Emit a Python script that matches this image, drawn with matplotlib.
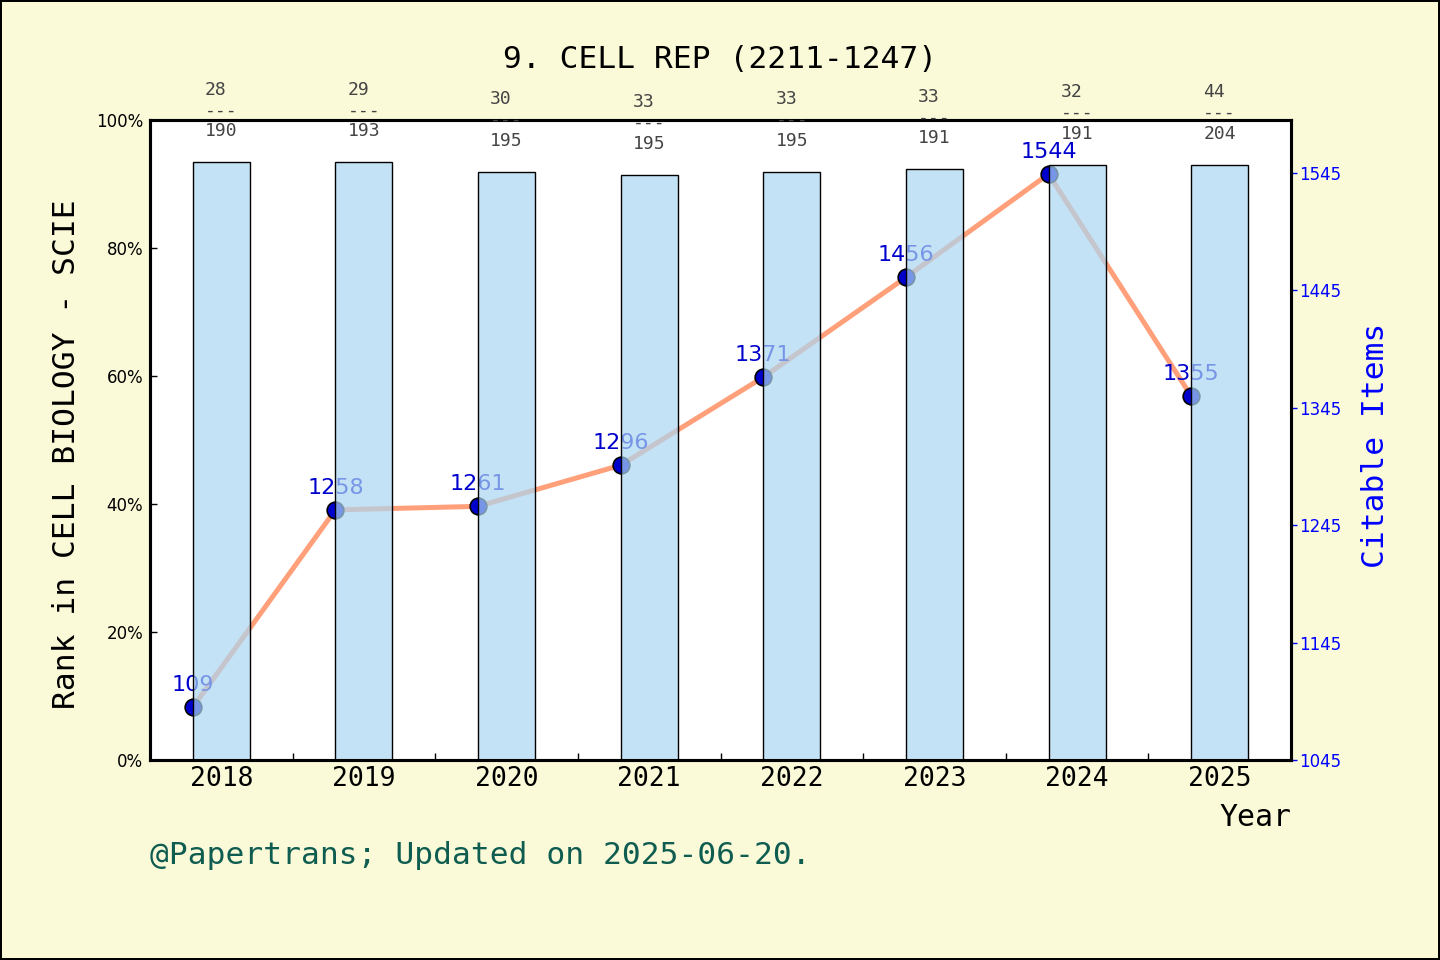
import numpy as np
import matplotlib
matplotlib.use("Agg")
from matplotlib import pyplot as plt

years = np.array([2018, 2019, 2020, 2021, 2022, 2023, 2024, 2025])
bar_pct = [93.4, 93.4, 91.9, 91.4, 91.9, 92.3, 93.0, 93.0]
rank = [28, 29, 30, 33, 33, 33, 32, 44]
total = [190, 193, 195, 195, 195, 191, 191, 204]
items = [1090, 1258, 1261, 1296, 1371, 1456, 1544, 1355]
item_labels = ["109", "1258", "1261", "1296", "1371", "1456", "1544", "1355"]

mono = "DejaVu Sans Mono"
bar_w = 0.4

fig = plt.figure(figsize=(14.4, 9.6), dpi=100, facecolor="#FAFAD9")
fig.patch.set_edgecolor("black")
fig.patch.set_linewidth(1.5)

ax = fig.add_axes([150/1440, 200/960, 1141/1440, 640/960])
ax2 = ax.twinx()
ax.set_zorder(ax2.get_zorder() + 1)
ax.patch.set_visible(False)
ax2.patch.set_visible(True)
ax2.patch.set_facecolor("white")

# citable items line (drawn under the bars)
x_line = years - bar_w / 2
ax2.plot(x_line, items, color="#FFA07A", lw=3.6, zorder=2)
ax2.plot(x_line, items, "o", ms=12, mfc="#0000CD", mec="black", mew=1.2, zorder=3)
for x, v, lab in zip(x_line, items, item_labels):
    ax2.annotate(lab, (x, v), xytext=(0, 11.5), textcoords="offset points",
                 ha="center", va="baseline", color="#0000CD", fontsize=16)

# bars on top with transparency
ax.bar(years, bar_pct, width=bar_w, color=(171/255, 214/255, 241/255, 0.7),
       edgecolor="black", lw=1, zorder=2)
for x, h, r, t in zip(years, bar_pct, rank, total):
    ax.text(x, h + 8.1, f"{r}\n---\n{t}", ha="center", va="center",
            multialignment="left", fontsize=13, color="#444444",
            family=mono, clip_on=False, linespacing=1.2)

ax.set_xlim(2017.5, 2025.5)
ax.set_ylim(0, 100)
ax.set_yticks(np.arange(0, 101, 20))
ax.set_yticklabels([f"{v}%" for v in range(0, 101, 20)])
ax.tick_params(axis="y", direction="in", length=5, width=1, pad=5, labelsize=12)
ax.set_xticks(years)
ax.set_xticklabels([str(y) for y in years], family=mono, fontsize=19)
ax.set_xticks(years[:-1] + 0.5, minor=True)
ax.tick_params(axis="x", which="major", length=0, pad=4)
ax.tick_params(axis="x", which="minor", direction="in", length=5, width=1)

ax2.set_ylim(1045, 1590)
ax2.set_yticks(np.arange(1045, 1546, 100))
ax2.tick_params(axis="y", direction="out", length=4, width=1, colors="blue",
                pad=2, labelsize=12)

for a in (ax, ax2):
    for s in a.spines.values():
        s.set_linewidth(2.2)

fig.text(0.5, 1 - 59/960, "9. CELL REP (2211-1247)", ha="center", va="center",
         fontsize=22.5, family=mono)
fig.text(67/1440, 1 - 454/960, "Rank in CELL BIOLOGY - SCIE", rotation=90,
         ha="center", va="center", fontsize=22.5, family=mono)
fig.text(1376/1440, 1 - 445/960, "Citable Items", rotation=90, ha="center",
         va="center", fontsize=22.5, family=mono, color="blue")
fig.text(1291/1440, 1 - 817/960, "Year", ha="right", va="center",
         fontsize=21.5, family=mono)
fig.text(150/1440, 1 - 855/960, "@Papertrans; Updated on 2025-06-20.",
         ha="left", va="center", fontsize=22.5, family=mono, color="#0F5C50")

fig.savefig("out.png", dpi=100, facecolor=fig.get_facecolor(),
            edgecolor=fig.get_edgecolor())
